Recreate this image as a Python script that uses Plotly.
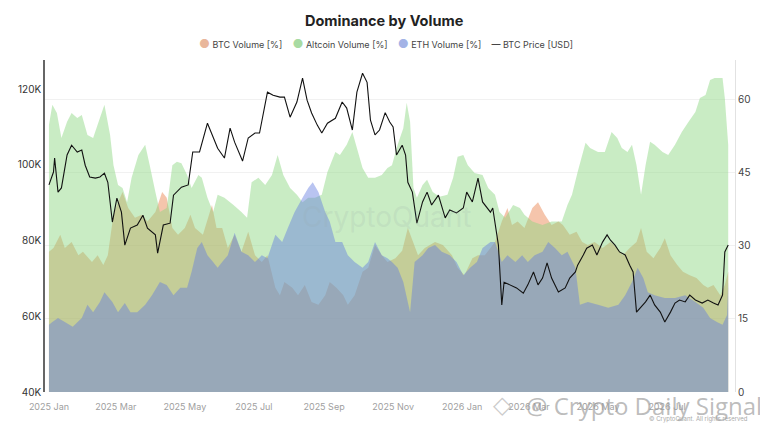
import pandas as pd
import plotly.graph_objects as go

start = pd.Timestamp("2025-01-01")

# Altcoin volume share (%), x = days since 2025-01-01
alt_day = [0, 3, 7, 11, 16, 20, 25, 29, 34, 39, 45, 49, 54, 57, 61, 65, 69, 73, 79, 85,
           89, 94, 98, 104, 109, 113, 117, 122, 126, 132, 135, 140, 145, 149, 155, 163, 170, 175, 179, 185,
           191, 197, 202, 207, 213, 219, 224, 229, 235, 241, 246, 253, 257, 263, 268, 272, 277, 282, 288, 294,
           299, 303, 308, 313, 316, 319, 322, 325, 330, 334, 339, 345, 352, 357, 361, 366, 370, 376, 383, 388,
           394, 398, 403, 410, 416, 420, 427, 436, 444, 453, 458, 462, 467, 474, 478, 485, 491, 497, 502, 506,
           511, 515, 519, 523, 527, 531, 535, 542, 547, 553, 559, 565, 571, 575, 580, 584, 588, 595, 597, 600]
alt_pct = [54.9, 59, 57.3, 52.2, 55.5, 57.3, 56.3, 56.9, 52.8, 52.2, 56.3, 59, 52.8, 46.6, 42.5, 41.9, 39, 44, 48.7, 50.8,
           46.6, 41.1, 37, 37.8, 46.6, 47.3, 47, 44.6, 41.9, 44.6, 44, 39.9, 37, 40.5, 39.9, 38.4, 37, 35.8, 43.1, 44,
           42.5, 44.6, 48.7, 44.6, 41.9, 40.5, 39, 39.9, 39.9, 40.5, 45.2, 49.3, 48.7, 50.8, 53.4, 50.1, 46, 44, 44, 44.6,
           46, 46.6, 50.8, 54.2, 59.4, 55.5, 41.9, 39.9, 42.5, 43.6, 41.1, 40.1, 40.5, 44, 48.3, 48.7, 46.6, 45, 44.6, 41.9,
           40.5, 37, 35.8, 38.4, 37.8, 36.4, 35, 34.3, 35, 35, 38.4, 40.5, 45.2, 51.2, 50.1, 49.3, 49.3, 53.4, 52.2, 50.1,
           49.3, 50.8, 46.6, 40.5, 46.6, 51.4, 50.8, 49.3, 48.7, 50.8, 53.4, 55.5, 57.5, 60.4, 61, 64.1, 64.5, 64.5, 60.4, 50.8]

# BTC volume share (%)
btc_day = [0, 4, 10, 14, 20, 26, 30, 38, 43, 48, 52, 57, 61, 65, 70, 76, 82, 87, 94, 100,
           104, 109, 114, 120, 125, 129, 136, 144, 148, 153, 158, 164, 170, 176, 182, 188, 193, 200, 204, 208,
           215, 220, 226, 232, 238, 244, 248, 254, 260, 264, 270, 277, 282, 288, 294, 299, 306, 312, 317, 326,
           332, 341, 348, 356, 361, 367, 374, 379, 385, 394, 400, 405, 409, 414, 420, 427, 432, 438, 444, 450,
           454, 460, 466, 471, 476, 482, 489, 496, 502, 507, 513, 519, 523, 528, 534, 540, 544, 549, 555, 560,
           566, 572, 578, 582, 587, 593, 597, 600]
btc_pct = [28.8, 29.6, 32.3, 29.6, 30.8, 28.1, 28.8, 26.7, 28.1, 26.1, 28.1, 36.4, 39, 41.1, 37.8, 35.8, 36.4, 35, 37, 41.1,
           39.9, 33.7, 32.3, 33.7, 36.4, 33.7, 32.3, 38.4, 33.7, 33.7, 29.6, 32.3, 28.8, 32.9, 28.1, 26.7, 28.1, 21.4, 19.9, 22.6,
           21.4, 19.9, 22, 18.5, 17.9, 19.9, 22.6, 21.4, 19.9, 17.9, 19.9, 24.7, 25.5, 30.2, 28.1, 26.7, 27.5, 29, 33.7, 28.1,
           29.6, 30.8, 30.2, 28.1, 25.5, 24, 27.5, 28.1, 28.1, 30.8, 35, 37.8, 34.3, 35, 33.7, 37.8, 39, 36.4, 34.3, 35,
           34.3, 32.3, 32.9, 30.8, 30.2, 30.8, 29.6, 30.8, 29.6, 28.1, 29.6, 30.8, 33.7, 28.8, 27.5, 29.6, 31.6, 28.1, 26.1, 24.7,
           24, 23.4, 22, 21.4, 22, 19.9, 22, 24.7]

# ETH volume share (%)
eth_day = [0, 3, 8, 14, 21, 29, 34, 39, 45, 49, 56, 61, 67, 72, 78, 85, 91, 98, 104, 110,
           116, 122, 126, 131, 135, 140, 145, 149, 153, 158, 164, 170, 176, 182, 188, 193, 200, 206, 211, 217,
           224, 229, 233, 238, 244, 248, 253, 259, 264, 270, 277, 282, 288, 294, 299, 303, 308, 313, 319, 323,
           330, 335, 341, 347, 354, 360, 366, 372, 378, 383, 390, 394, 400, 405, 412, 418, 423, 429, 436, 441,
           447, 453, 458, 465, 469, 476, 485, 494, 503, 509, 515, 520, 525, 529, 535, 544, 553, 562, 571, 578,
           584, 590, 595, 599, 600]
eth_pct = [13.8, 14.4, 15.2, 14.4, 13.4, 15.2, 17.9, 16.4, 18.5, 20.5, 18.5, 16.4, 18.3, 16.4, 16.4, 17.9, 19.9, 22.6, 22, 19.9,
           21.4, 21.4, 24.7, 29.6, 30.8, 28.1, 26.7, 25.5, 26.7, 28.1, 32.7, 28.8, 28.1, 26.7, 28.1, 27.5, 32.3, 30.8, 33.7, 37,
           39.9, 41.9, 43.1, 41.1, 37, 35, 30.8, 30.8, 28.1, 26.7, 25.5, 26.7, 30.8, 28.1, 27.5, 26.7, 25.5, 22.6, 16.4, 26.7,
           28.1, 29.6, 30.2, 28.8, 28.1, 26.7, 24, 25.5, 26.7, 29.6, 30.8, 30.8, 26.7, 28.1, 26.7, 28.1, 26.7, 28.1, 28.8, 30.8,
           29.6, 28.1, 28.8, 25.5, 17.9, 18.5, 17.9, 17.3, 17.9, 19.9, 22.6, 25.5, 23.4, 20.5, 19.9, 19.3, 19.3, 19.9, 18.5, 17.3,
           15.2, 14.4, 13.8, 15.8, 22.6]

# BTC price (thousand USD)
price_day = [0, 4, 5, 8, 11, 16, 20, 25, 29, 32, 36, 41, 45, 49, 52, 56, 60, 64, 67, 72,
             78, 83, 87, 94, 96, 101, 107, 110, 117, 123, 127, 133, 140, 145, 149, 155, 160, 164, 171, 176,
             182, 186, 193, 198, 204, 208, 213, 219, 224, 228, 232, 237, 241, 246, 253, 259, 263, 268, 272, 277,
             281, 284, 288, 292, 297, 301, 304, 307, 312, 315, 317, 321, 325, 330, 334, 338, 344, 350, 354, 360,
             366, 369, 374, 379, 383, 390, 392, 397, 400, 402, 407, 413, 419, 423, 428, 432, 436, 440, 444, 450,
             456, 460, 465, 467, 472, 475, 480, 484, 489, 493, 496, 500, 504, 509, 513, 516, 519, 522, 527, 531,
             535, 540, 544, 549, 553, 557, 562, 566, 571, 577, 582, 587, 591, 595, 597, 600]
price_k = [94.7, 98.1, 101.8, 92.8, 93.9, 102.6, 105.2, 103.4, 103.9, 99.9, 96.8, 96.5, 96.8, 97.8, 95.4, 84.9, 91.2, 87.5, 78.8, 83.3,
           84.1, 86.7, 83.3, 81.5, 76.7, 84.1, 84.6, 92, 94.1, 94.7, 103.4, 103.4, 111, 107.1, 104.4, 101.8, 109.7, 106, 101, 107.1,
           108.4, 108.4, 119.2, 118.4, 117.9, 117.9, 112.6, 116.6, 122.9, 117.1, 113.7, 110.5, 108.4, 111, 112.3, 116.6, 115, 109.2, 119.2, 124.2,
           121.8, 111.8, 107.9, 109.2, 113.8, 111.3, 110, 102.6, 105.2, 102.6, 95.4, 92.8, 84.6, 90.2, 92.8, 89.4, 92, 86, 88.1, 87.3,
           88.6, 92.8, 90.2, 96.5, 90.2, 87.5, 88.6, 78.8, 63, 69, 68.3, 67.5, 66.1, 68.3, 71.7, 68.3, 70.1, 74.1, 70.1, 66.4,
           67.5, 70.1, 71.7, 73.5, 76.2, 78, 78.8, 76.2, 79.6, 81.5, 80.1, 78.8, 77, 76.2, 73.5, 71.7, 61.1, 62.2, 63.8, 65.6,
           63, 61.1, 58.5, 61.1, 63.5, 64.3, 63.8, 65.6, 64.3, 63.5, 64.3, 63.5, 63, 65.6, 77, 78.8]

price_ticks = [40, 60, 80, 100, 120]
price_labels = ["40K", "60K", "80K", "100K", "120K"]
pct_ticks = [0, 15, 30, 45, 60]


def to_dates(days):
    return start + pd.to_timedelta(days, unit="D")


fig = go.Figure()

areas = [
    ("BTC Volume [%]", btc_day, btc_pct, "rgba(235,140,90,0.5)", "#e9b79c"),
    ("Altcoin Volume [%]", alt_day, alt_pct, "rgba(140,215,130,0.47)", "#a9dba3"),
    ("ETH Volume [%]", eth_day, eth_pct, "rgba(100,125,225,0.45)", "#a3b3e6"),
]
for name, d, v, fill, _ in areas:
    fig.add_trace(go.Scatter(x=to_dates(d), y=v, mode="none", fill="tozeroy", fillcolor=fill,
                             name=name, hoverinfo="skip", yaxis="y"))

fig.add_trace(go.Scatter(x=to_dates(price_day), y=price_k, mode="lines", name="BTC Price [USD]",
                         line=dict(color="#111111", width=1.1), yaxis="y2"))

# compact legend line like the original (round dots + line)
legend_txt = "&nbsp;&nbsp;&nbsp;&nbsp;".join(
    [f"<span style='color:{dot}; font-size:12px'>●</span> {name}" for name, _, _, _, dot in areas]
    + ["<span style='color:#111'>—</span> BTC Price [USD]"]
)

# the page body adds an 8px offset, so margins are shifted by that amount
fig.update_layout(
    width=768, height=432,
    margin=dict(l=37, r=41, t=52, b=48),
    paper_bgcolor="white", plot_bgcolor="white",
    font=dict(family="Inter, Roboto, sans-serif", size=10, color="#444"),
    showlegend=False,
    xaxis=dict(type="date", range=[start - pd.Timedelta(days=3.5), start + pd.Timedelta(days=606)],
               tick0="2025-01-01", dtick="M2", tickformat="%Y %b", showgrid=False, showline=False,
               zeroline=False, automargin=False, ticks="outside", ticklen=6, tickcolor="rgba(0,0,0,0)",
               tickfont=dict(size=9, color="#a0a0a0")),
    yaxis=dict(side="right", range=[0, 68.2], tickvals=pct_ticks, showgrid=True, gridcolor="#f1f1f1",
               showline=True, linecolor="#e2e2e2", zeroline=False, automargin=False,
               tickfont=dict(size=10, color="#444")),
    yaxis2=dict(overlaying="y", side="left", range=[40, 127.7], tickvals=price_ticks, ticktext=price_labels,
                showgrid=False, showline=True, linecolor="#666", linewidth=1.5, zeroline=False,
                automargin=False, tickfont=dict(size=10, color="#333")),
)

plot_w = 768 - 37 - 41
plot_h = 432 - 52 - 48


def px_x(x):
    return (x - 8 - 37) / plot_w


def px_y(y):
    return (432 - 48 - (y - 8)) / plot_h


fig.add_annotation(text="<b>Dominance by Volume</b>", x=px_x(384), y=px_y(20), xref="paper", yref="paper",
                   yanchor="middle", showarrow=False, font=dict(size=14.5, color="#222"))
fig.add_annotation(text=legend_txt, x=px_x(386), y=px_y(43), xref="paper", yref="paper",
                   yanchor="middle", showarrow=False, font=dict(size=9, color="#444"))

# watermarks
fig.add_annotation(text="CryptoQuant", x=px_x(386), y=px_y(217), xref="paper", yref="paper", showarrow=False,
                   yanchor="middle", font=dict(size=28, color="rgba(150,170,170,0.18)", family="Inter, sans-serif"))
fig.add_annotation(text="◇", x=px_x(514), y=px_y(405), xref="paper", yref="paper", showarrow=False,
                   yanchor="middle", font=dict(size=24, color="rgba(170,170,170,0.6)", family="DejaVu Sans"))
fig.add_annotation(text="@ Crypto Daily Signal", x=px_x(764), y=px_y(405), xref="paper", yref="paper",
                   xanchor="right", yanchor="middle", showarrow=False,
                   font=dict(size=24, color="rgba(160,160,160,0.7)", family="Open Sans, sans-serif"))
fig.add_annotation(text="© CryptoQuant. All rights reserved", x=px_x(750), y=px_y(419), xref="paper", yref="paper",
                   xanchor="right", yanchor="middle", showarrow=False,
                   font=dict(size=6, color="#aaa"))

fig.write_html("out.html")
